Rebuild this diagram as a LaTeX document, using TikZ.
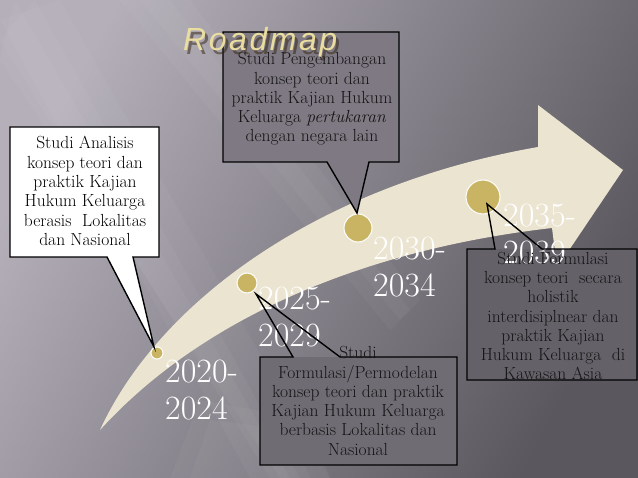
\documentclass[tikz,border=0pt]{standalone}
\usepackage{fontspec}
\newfontfamily\titlefont[LetterSpace=8]{Liberation Sans}
\definecolor{bgA}{RGB}{180,175,185}
\definecolor{bgB}{RGB}{90,87,94}
\definecolor{cream}{RGB}{234,228,208}
\definecolor{gold}{RGB}{200,180,98}
\definecolor{boxBc}{RGB}{126,121,130}
\definecolor{boxCc}{RGB}{112,108,116}
\definecolor{boxDc}{RGB}{100,97,104}
\definecolor{titlegold}{RGB}{234,221,160}
\definecolor{inkc}{RGB}{22,20,22}
\tikzset{
  dotnode/.style={circle, fill=gold, draw=white!85!cream, line width=1.1pt, inner sep=0pt},
  calloutline/.style={draw=black, line width=1.4pt, line join=miter},
  boxtext/.style={align=center, inner sep=0pt, text=inkc, font=\fontsize{17.5}{19.3}\selectfont},
  yeartext/.style={anchor=base west, inner sep=0pt, text=white, font=\fontsize{34}{37}\selectfont},
  streak/.style={fill=white, opacity=0.035},
  titlestyle/.style={anchor=base west, inner sep=0pt, font=\titlefont\itshape\fontsize{32}{34}\selectfont},
}
\begin{document}
\begin{tikzpicture}[x=1pt,y=-1pt]
\useasboundingbox (0,0) rectangle (638,478);
% background
\shade[top color=bgA, bottom color=bgB, shading angle=62] (0,0) rectangle (638,478);
\fill[streak] (0,20) -- (60,0) -- (330,478) -- (250,478) -- cycle;
\fill[streak] (0,40) -- (35,0) -- (300,478) -- (270,478) -- cycle;
\fill[streak] (0,60) -- (15,0) -- (290,478) -- (280,478) -- cycle;
\fill[streak] (120,0) -- (190,0) -- (420,300) -- (390,330) -- cycle;
\fill[streak] (140,0) -- (170,0) -- (410,310) -- (400,320) -- cycle;
\fill[streak] (170,478) -- (200,400) -- (310,420) -- (330,478) -- cycle;
\fill[streak] (190,478) -- (210,420) -- (290,430) -- (310,478) -- cycle;
% arrow band
\fill[cream] (100,430) .. controls (160,300) and (320,185) .. (538,147)
  -- (538,105) -- (623,170) -- (557,268) -- (552,228)
  .. controls (360,250) and (200,320) .. (100,430) -- cycle;
% dots
\node[dotnode, minimum size=12pt] (d1) at (157,353) {};
\node[dotnode, minimum size=20pt] (d2) at (247,283) {};
\node[dotnode, minimum size=28pt] (d3) at (358,228) {};
\node[dotnode, minimum size=34pt] (d4) at (483,197) {};
% callout coordinates
\coordinate (tA) at (154,347);
\coordinate (tB) at (357,213);
\coordinate (tC) at (256,294);
\coordinate (tD) at (487,204);
% callout fills
\fill[white] (10,127) -- (159,127) -- (159,257) -- (133,257) -- (tA) -- (107,257) -- (10,257) -- cycle;
\fill[boxBc] (223,32) -- (399,32) -- (399,162) -- (369,162) -- (tB) -- (327,162) -- (223,162) -- cycle;
\fill[boxCc] (260,357) -- (457,357) -- (457,465) -- (260,465) -- cycle;
\fill[boxDc] (467,249) -- (637,249) -- (637,380) -- (467,380) -- cycle;
% year labels
\node[yeartext] (y1a) at (165,383) {2020-};
\node[yeartext] (y1b) at (165,420) {2024};
\node[yeartext] (y2a) at (258,310) {2025-};
\node[yeartext] (y2b) at (258,347) {2029};
\node[yeartext] (y3a) at (373,260) {2030-};
\node[yeartext] (y3b) at (373,297) {2034};
\node[yeartext] (y4a) at (503,227) {2035-};
\node[yeartext] (y4b) at (503,264) {2039};
% callout outlines
\draw[calloutline] (10,127) -- (159,127) -- (159,257) -- (133,257) -- (tA) -- (107,257) -- (10,257) -- cycle;
\draw[calloutline] (223,32) -- (399,32) -- (399,162) -- (369,162) -- (tB) -- (327,162) -- (223,162) -- cycle;
\draw[calloutline] (260,357) -- (293,357) -- (tC) -- (340,357) -- (457,357) -- (457,465) -- (260,465) -- cycle;
\draw[calloutline] (467,249) -- (495,249) -- (tD) -- (542,249) -- (637,249) -- (637,380) -- (467,380) -- cycle;
% callout texts
\node[boxtext, text=black] (cA) at (85,191) {Studi Analisis\\konsep teori dan\\praktik Kajian\\Hukum Keluarga\\berasis\ \ Lokalitas\\dan Nasional};
\node[boxtext] (cB) at (312,99) {Studi Pengembangan\\konsep teori dan\\praktik Kajian Hukum\\Keluarga \textit{pertukaran}\\dengan negara lain};
\node[boxtext] (cC) at (358,401) {Studi\\Formulasi/Permodelan\\konsep teori dan praktik\\Kajian Hukum Keluarga\\berbasis Lokalitas dan\\Nasional};
\node[boxtext] (cD) at (553,316) {Studi Formulasi\\konsep teori\ \ secara\\holistik\\interdisiplnear dan\\praktik Kajian\\Hukum Keluarga\ \ di\\Kawasan Asia};
% title
\node[titlestyle, text=black!75!brown, opacity=0.5] (titleshadow) at (186,55) {Roadmap};
\node[titlestyle, text=titlegold] (title) at (183,51) {Roadmap};
\end{tikzpicture}
\end{document}
